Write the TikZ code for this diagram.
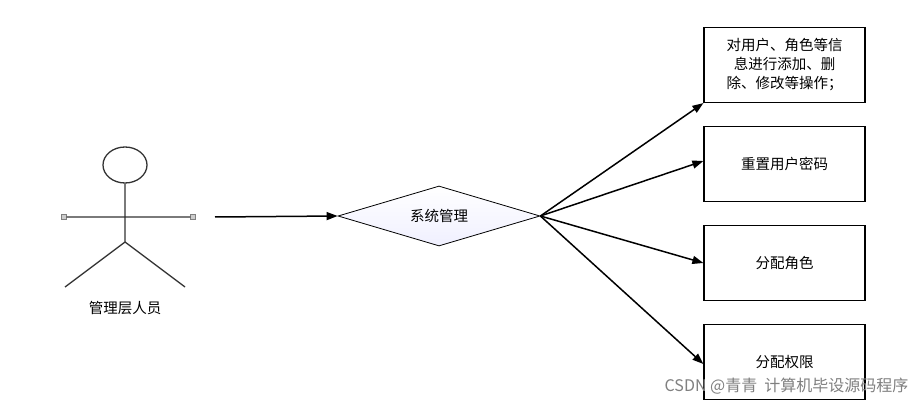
\documentclass[tikz,border=0pt]{standalone}
\usepackage{fontspec}
\setmainfont{Noto Sans CJK SC}
\usetikzlibrary{arrows.meta,shapes.geometric}
\begin{document}
\begin{tikzpicture}[x=1pt,y=-1pt,
  box/.style={draw,line width=1.2pt,minimum width=161pt,minimum height=75pt,align=center,font=\fontsize{14.5}{19}\selectfont},
  conn/.style={line width=1.5pt,-{Triangle[length=11pt,width=8pt]}},
  fig/.style={line width=1.3pt,draw=black!80},
  handle/.style={draw=gray,fill=gray!40,minimum size=5pt,inner sep=0pt}]
\useasboundingbox[fill=white] (0,0) rectangle (924,406);
% actor
\node[fig,ellipse,minimum width=44pt,minimum height=36pt,draw] (head) at (125,165) {};
\coordinate (hip) at (125,242);
\node[handle] (lh) at (64,217) {};
\node[handle] (rh) at (193,217) {};
\coordinate (lf) at (65,287);
\coordinate (rf) at (185,287);
\draw[fig] (head.south) -- (hip) (lh) -- (rh) (hip) -- (lf) (hip) -- (rf);
\node[font=\fontsize{14.5}{16}\selectfont] (lbl) at (125,308) {管理层人员};
% diamond
\node[diamond,draw,line width=0.8pt,aspect=3.4,minimum width=202pt,minimum height=60pt,inner sep=0pt,
  top color=white,bottom color=blue!6,font=\fontsize{14.5}{16}\selectfont] (sys) at (439,216) {系统管理};
\coordinate (src) at (215,217);
\draw[conn] (src) -- (sys.west);
% boxes
\node[box] (b1) at (784.5,65) {对用户、角色等信\\息进行添加、删\\除、修改等操作；};
\node[box] (b2) at (784.5,164) {重置用户密码};
\node[box] (b3) at (784.5,263) {分配角色};
\node[box] (b4) at (784.5,362) {分配权限};
\draw[conn] (sys.east) -- (b1.south west);
\draw[conn] (sys.east) -- ([yshift=3pt]b2.west);
\draw[conn] (sys.east) -- (b3.west);
\draw[conn] (sys.east) -- ([yshift=-2pt]b4.west);
\node[text=gray,font=\fontsize{16}{18}\selectfont,anchor=east] (wm) at (912,386) {CSDN @青青\ \ 计算机毕设源码程序};
\end{tikzpicture}
\end{document}
